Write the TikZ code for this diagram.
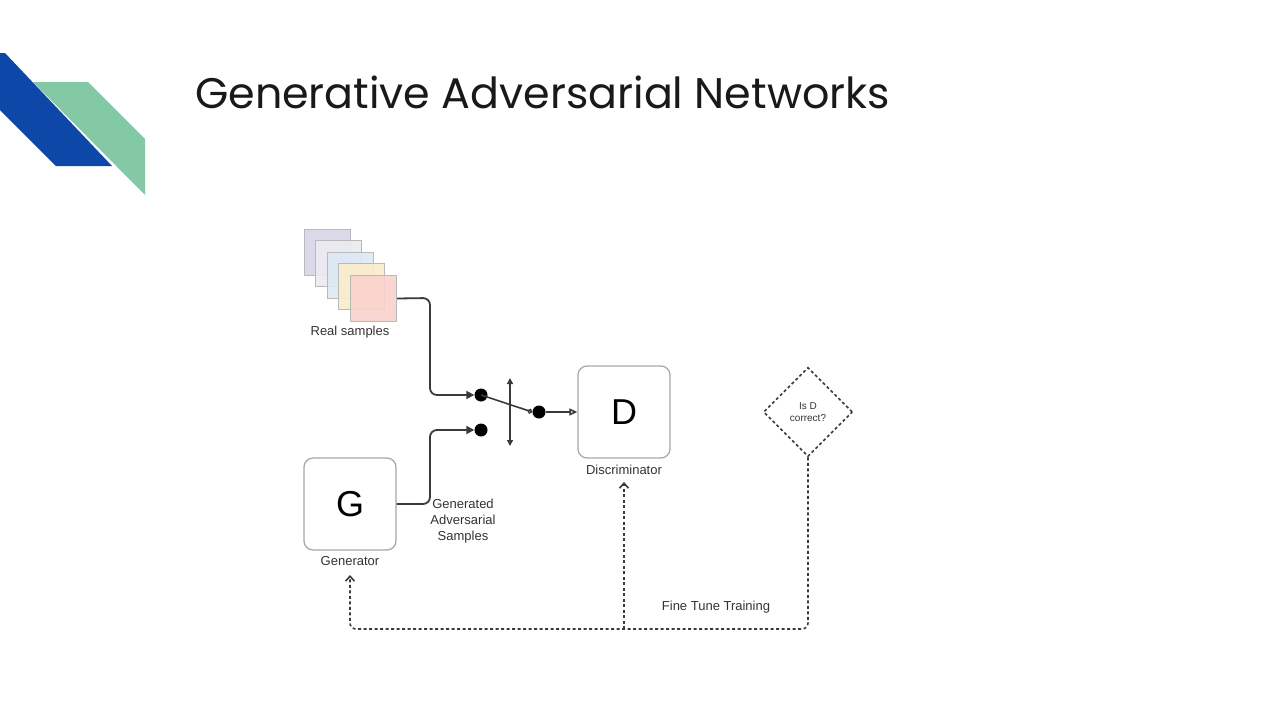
\documentclass[tikz,border=0pt]{standalone}
\usepackage{fontspec}
\setmainfont{Liberation Sans}
\newfontfamily\titlefont{Poppins}
\usetikzlibrary{arrows.meta,shapes.geometric}
\definecolor{decoblue}{HTML}{0D47A8}
\definecolor{decogreen}{HTML}{84C9A6}
\definecolor{boxgray}{HTML}{A8A8A8}
\definecolor{linegray}{HTML}{3A3A3A}
\definecolor{txtgray}{HTML}{333333}
\definecolor{sqA}{HTML}{DCD8E8}
\definecolor{sqB}{HTML}{ECEAF2}
\definecolor{sqC}{HTML}{DDE9F5}
\definecolor{sqD}{HTML}{FBEDCB}
\definecolor{sqE}{HTML}{F9D2CD}
\tikzset{
  sample/.style={draw=boxgray!80, line width=1pt, minimum width=46pt, minimum height=46pt, inner sep=0pt, anchor=north west},
  bigbox/.style={draw=boxgray, line width=1.3pt, rounded corners=9pt, minimum width=92pt, minimum height=92pt, inner sep=0pt, font=\fontsize{36}{36}\selectfont},
  lbl/.style={font=\fontsize{13}{16}\selectfont, text=txtgray, inner sep=0pt},
  conn/.style={draw=linegray, line width=1.8pt, rounded corners=7pt},
  dot/.style={circle, fill=black, minimum size=13pt, inner sep=0pt},
  fb/.style={draw=linegray, line width=1.6pt, dash pattern=on 3pt off 2.5pt, rounded corners=6pt},
}
\begin{document}
\begin{tikzpicture}[x=1pt,y=-1pt]
\useasboundingbox (0,0) rectangle (1280,720);
\fill[white] (0,0) rectangle (1280,720);
% decoration
\fill[decoblue] (0,53) -- (5,53) -- (112,166) -- (56,166) -- (0,110) -- cycle;
\fill[decogreen] (33,82) -- (88,82) -- (145,139) -- (145,195) -- cycle;
% title
\node[anchor=base west, inner sep=0pt, text=black!90, font=\titlefont\fontsize{42.8}{42.8}\selectfont] (title) at (195,108) {Generative Adversarial Networks};
% real samples
\node[sample, fill=sqA] (s1) at (304,229) {};
\node[sample, fill=sqB, fill opacity=0.9] (s2) at (315,240) {};
\node[sample, fill=sqC, fill opacity=0.9] (s3) at (327,252) {};
\node[sample, fill=sqD, fill opacity=0.9] (s4) at (338,263) {};
\node[sample, fill=sqE, fill opacity=0.9] (s5) at (350,275) {};
\node[lbl] (reallbl) at (350,332) {Real samples};
% generator
\node[bigbox] (G) at (350,504) {G};
\node[lbl] (genlbl) at (350,561) {Generator};
\node[lbl, align=center] (advlbl) at (463,521) {Generated\\Adversarial\\Samples};
% switch
\node[dot] (d1) at (481,395) {};
\node[dot] (d2) at (481,430) {};
\node[dot] (d3) at (539,412) {};
\coordinate (swt) at (510,378);
\coordinate (swb) at (510,446);
% discriminator
\node[bigbox] (D) at (624,412) {D};
\node[lbl] (dislbl) at (624,470) {Discriminator};
% decision
\node[diamond, draw=linegray, line width=1.6pt, dash pattern=on 3pt off 2.5pt, minimum width=89pt, minimum height=89pt, inner sep=0pt, align=center, font=\fontsize{10}{12}\selectfont, text=txtgray] (Q) at (808,412) {Is D\\correct?};
\node[lbl] (ftlbl) at (716,607) {Fine Tune Training};
% connectors
\draw[conn, -{Triangle[length=8pt,width=8pt]}] (s5.east) -- (430,298) -- (430,395) -- (d1.west);
\draw[conn, -{Triangle[length=8pt,width=8pt]}] (G.east) -- (430,504) -- (430,430) -- (d2.west);
\draw[draw=linegray, line width=1.6pt, -{Circle[open,length=5pt]}] (d1.center) -- (d3.west);
\draw[draw=linegray, line width=1.3pt, {Triangle[length=6pt,width=6pt]}-{Triangle[length=6pt,width=6pt]}] (swt) -- (swb);
\draw[draw=linegray, line width=1.6pt, -{Triangle[open,length=8pt,width=7pt]}] (d3.east) -- (D.west);
\coordinate (fbr) at (808,629);
\coordinate (fbl) at (350,629);
\coordinate (fbm) at (624,629);
\coordinate (genin) at (350,575);
\coordinate (disin) at (624,482);
\draw[fb, -{Straight Barb[length=5pt,width=9pt]}] (Q.south) -- (fbr) -- (fbl) -- (genin);
\draw[fb, -{Straight Barb[length=5pt,width=9pt]}] (fbm) -- (disin);
\end{tikzpicture}
\end{document}
